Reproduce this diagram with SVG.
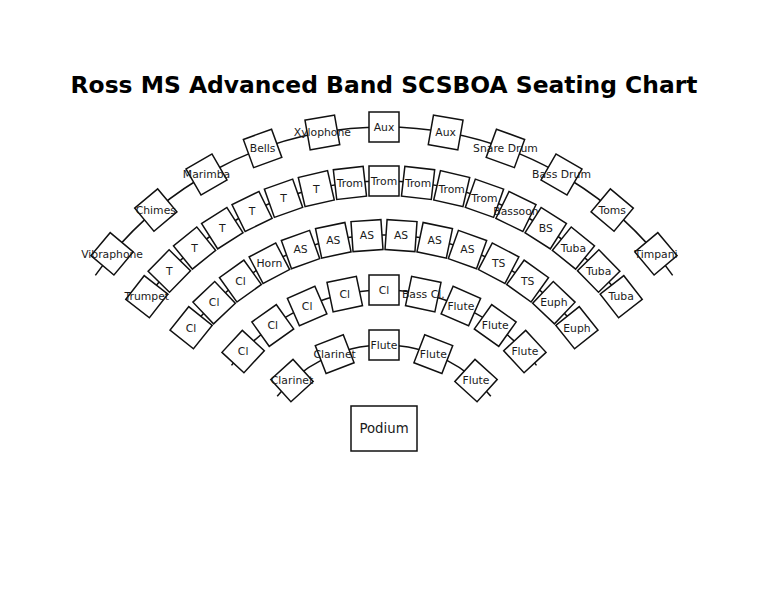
<svg xmlns="http://www.w3.org/2000/svg" width="768" height="593" viewBox="0 0 768 593">
<style>
.b{fill:#fff;stroke:#111;stroke-width:1.5}
.c{fill:none;stroke:#111;stroke-width:1.5}
.t{font-family:"DejaVu Sans",sans-serif;font-size:10.8px;fill:#1a1a1a;text-anchor:middle}
.title{font-family:"DejaVu Sans",sans-serif;font-size:23.4px;font-weight:bold;fill:#000;text-anchor:middle}
</style>
<rect width="768" height="593" fill="#fff"/>
<text class="title" x="384" y="93">Ross MS Advanced Band SCSBOA Seating Chart</text>
<g id="connectors">
<path class="c" d="M95.35,275.35 A355,355 0 0 1 672.65,275.35"/>
<path class="c" d="M140.5,305.1 A301,301 0 0 1 627.5,305.1"/>
<path class="c" d="M184.2,336.8 A247,247 0 0 1 583.8,336.8"/>
<path class="c" d="M231.5,365.4 A192,192 0 0 1 536.5,365.4"/>
<path class="c" d="M277.2,396.2 A137,137 0 0 1 490.8,396.2"/>
</g>
<!-- Row 1 -->
<g id="r1-vibraphone" transform="rotate(-50 384 482)"><rect class="b" x="369" y="112" width="30" height="30"/><text class="t" transform="translate(384 127) rotate(50)" y="3.8">Vibraphone</text></g>
<g id="r1-chimes" transform="rotate(-40 384 482)"><rect class="b" x="369" y="112" width="30" height="30"/><text class="t" transform="translate(384 127) rotate(40)" y="3.8">Chimes</text></g>
<g id="r1-marimba" transform="rotate(-30 384 482)"><rect class="b" x="369" y="112" width="30" height="30"/><text class="t" transform="translate(384 127) rotate(30)" y="3.8">Marimba</text></g>
<g id="r1-bells" transform="rotate(-20 384 482)"><rect class="b" x="369" y="112" width="30" height="30"/><text class="t" transform="translate(384 127) rotate(20)" y="3.8">Bells</text></g>
<g id="r1-xylophone" transform="rotate(-10 384 482)"><rect class="b" x="369" y="112" width="30" height="30"/><text class="t" transform="translate(384 127) rotate(10)" y="3.8">Xylophone</text></g>
<g id="r1-aux1"><rect class="b" x="369" y="112" width="30" height="30"/><text class="t" x="384" y="130.8">Aux</text></g>
<g id="r1-aux2" transform="rotate(10 384 482)"><rect class="b" x="369" y="112" width="30" height="30"/><text class="t" transform="translate(384 127) rotate(-10)" y="3.8">Aux</text></g>
<g id="r1-snare" transform="rotate(20 384 482)"><rect class="b" x="369" y="112" width="30" height="30"/><text class="t" transform="translate(384 127) rotate(-20)" y="3.8">Snare Drum</text></g>
<g id="r1-bass" transform="rotate(30 384 482)"><rect class="b" x="369" y="112" width="30" height="30"/><text class="t" transform="translate(384 127) rotate(-30)" y="3.8">Bass Drum</text></g>
<g id="r1-toms" transform="rotate(40 384 482)"><rect class="b" x="369" y="112" width="30" height="30"/><text class="t" transform="translate(384 127) rotate(-40)" y="3.8">Toms</text></g>
<g id="r1-timpani" transform="rotate(50 384 482)"><rect class="b" x="369" y="112" width="30" height="30"/><text class="t" transform="translate(384 127) rotate(-50)" y="3.8">Timpani</text></g>
<!-- Row 2 -->
<g id="r2-01" transform="rotate(-52 384 482)"><rect class="b" x="369" y="166" width="30" height="30"/><text class="t" transform="translate(384 181) rotate(52)" y="3.8">Trumpet</text></g>
<g id="r2-02" transform="rotate(-45.5 384 482)"><rect class="b" x="369" y="166" width="30" height="30"/><text class="t" transform="translate(384 181) rotate(45.5)" y="3.8">T</text></g>
<g id="r2-03" transform="rotate(-39 384 482)"><rect class="b" x="369" y="166" width="30" height="30"/><text class="t" transform="translate(384 181) rotate(39)" y="3.8">T</text></g>
<g id="r2-04" transform="rotate(-32.5 384 482)"><rect class="b" x="369" y="166" width="30" height="30"/><text class="t" transform="translate(384 181) rotate(32.5)" y="3.8">T</text></g>
<g id="r2-05" transform="rotate(-26 384 482)"><rect class="b" x="369" y="166" width="30" height="30"/><text class="t" transform="translate(384 181) rotate(26)" y="3.8">T</text></g>
<g id="r2-06" transform="rotate(-19.5 384 482)"><rect class="b" x="369" y="166" width="30" height="30"/><text class="t" transform="translate(384 181) rotate(19.5)" y="3.8">T</text></g>
<g id="r2-07" transform="rotate(-13 384 482)"><rect class="b" x="369" y="166" width="30" height="30"/><text class="t" transform="translate(384 181) rotate(13)" y="3.8">T</text></g>
<g id="r2-08" transform="rotate(-6.5 384 482)"><rect class="b" x="369" y="166" width="30" height="30"/><text class="t" transform="translate(384 181) rotate(6.5)" y="3.8">Trom</text></g>
<g id="r2-09"><rect class="b" x="369" y="166" width="30" height="30"/><text class="t" x="384" y="184.8">Trom</text></g>
<g id="r2-10" transform="rotate(6.5 384 482)"><rect class="b" x="369" y="166" width="30" height="30"/><text class="t" transform="translate(384 181) rotate(-6.5)" y="3.8">Trom</text></g>
<g id="r2-11" transform="rotate(13 384 482)"><rect class="b" x="369" y="166" width="30" height="30"/><text class="t" transform="translate(384 181) rotate(-13)" y="3.8">Trom</text></g>
<g id="r2-12" transform="rotate(19.5 384 482)"><rect class="b" x="369" y="166" width="30" height="30"/><text class="t" transform="translate(384 181) rotate(-19.5)" y="3.8">Trom</text></g>
<g id="r2-13" transform="rotate(26 384 482)"><rect class="b" x="369" y="166" width="30" height="30"/><text class="t" transform="translate(384 181) rotate(-26)" y="3.8">Bassoon</text></g>
<g id="r2-14" transform="rotate(32.5 384 482)"><rect class="b" x="369" y="166" width="30" height="30"/><text class="t" transform="translate(384 181) rotate(-32.5)" y="3.8">BS</text></g>
<g id="r2-15" transform="rotate(39 384 482)"><rect class="b" x="369" y="166" width="30" height="30"/><text class="t" transform="translate(384 181) rotate(-39)" y="3.8">Tuba</text></g>
<g id="r2-16" transform="rotate(45.5 384 482)"><rect class="b" x="369" y="166" width="30" height="30"/><text class="t" transform="translate(384 181) rotate(-45.5)" y="3.8">Tuba</text></g>
<g id="r2-17" transform="rotate(52 384 482)"><rect class="b" x="369" y="166" width="30" height="30"/><text class="t" transform="translate(384 181) rotate(-52)" y="3.8">Tuba</text></g>
<!-- Row 3 -->
<g id="r3-01" transform="rotate(-51.35 384 482)"><rect class="b" x="369" y="220" width="30" height="30"/><text class="t" transform="translate(384 235) rotate(51.35)" y="3.8">Cl</text></g>
<g id="r3-02" transform="rotate(-43.45 384 482)"><rect class="b" x="369" y="220" width="30" height="30"/><text class="t" transform="translate(384 235) rotate(43.45)" y="3.8">Cl</text></g>
<g id="r3-03" transform="rotate(-35.55 384 482)"><rect class="b" x="369" y="220" width="30" height="30"/><text class="t" transform="translate(384 235) rotate(35.55)" y="3.8">Cl</text></g>
<g id="r3-04" transform="rotate(-27.65 384 482)"><rect class="b" x="369" y="220" width="30" height="30"/><text class="t" transform="translate(384 235) rotate(27.65)" y="3.8">Horn</text></g>
<g id="r3-05" transform="rotate(-19.75 384 482)"><rect class="b" x="369" y="220" width="30" height="30"/><text class="t" transform="translate(384 235) rotate(19.75)" y="3.8">AS</text></g>
<g id="r3-06" transform="rotate(-11.85 384 482)"><rect class="b" x="369" y="220" width="30" height="30"/><text class="t" transform="translate(384 235) rotate(11.85)" y="3.8">AS</text></g>
<g id="r3-07" transform="rotate(-3.95 384 482)"><rect class="b" x="369" y="220" width="30" height="30"/><text class="t" transform="translate(384 235) rotate(3.95)" y="3.8">AS</text></g>
<g id="r3-08" transform="rotate(3.95 384 482)"><rect class="b" x="369" y="220" width="30" height="30"/><text class="t" transform="translate(384 235) rotate(-3.95)" y="3.8">AS</text></g>
<g id="r3-09" transform="rotate(11.85 384 482)"><rect class="b" x="369" y="220" width="30" height="30"/><text class="t" transform="translate(384 235) rotate(-11.85)" y="3.8">AS</text></g>
<g id="r3-10" transform="rotate(19.75 384 482)"><rect class="b" x="369" y="220" width="30" height="30"/><text class="t" transform="translate(384 235) rotate(-19.75)" y="3.8">AS</text></g>
<g id="r3-11" transform="rotate(27.65 384 482)"><rect class="b" x="369" y="220" width="30" height="30"/><text class="t" transform="translate(384 235) rotate(-27.65)" y="3.8">TS</text></g>
<g id="r3-12" transform="rotate(35.55 384 482)"><rect class="b" x="369" y="220" width="30" height="30"/><text class="t" transform="translate(384 235) rotate(-35.55)" y="3.8">TS</text></g>
<g id="r3-13" transform="rotate(43.45 384 482)"><rect class="b" x="369" y="220" width="30" height="30"/><text class="t" transform="translate(384 235) rotate(-43.45)" y="3.8">Euph</text></g>
<g id="r3-14" transform="rotate(51.35 384 482)"><rect class="b" x="369" y="220" width="30" height="30"/><text class="t" transform="translate(384 235) rotate(-51.35)" y="3.8">Euph</text></g>
<!-- Row 4 -->
<g id="r4-01" transform="rotate(-47.2 384 482)"><rect class="b" x="369" y="275" width="30" height="30"/><text class="t" transform="translate(384 290) rotate(47.2)" y="3.8">Cl</text></g>
<g id="r4-02" transform="rotate(-35.4 384 482)"><rect class="b" x="369" y="275" width="30" height="30"/><text class="t" transform="translate(384 290) rotate(35.4)" y="3.8">Cl</text></g>
<g id="r4-03" transform="rotate(-23.6 384 482)"><rect class="b" x="369" y="275" width="30" height="30"/><text class="t" transform="translate(384 290) rotate(23.6)" y="3.8">Cl</text></g>
<g id="r4-04" transform="rotate(-11.8 384 482)"><rect class="b" x="369" y="275" width="30" height="30"/><text class="t" transform="translate(384 290) rotate(11.8)" y="3.8">Cl</text></g>
<g id="r4-05"><rect class="b" x="369" y="275" width="30" height="30"/><text class="t" x="384" y="293.8">Cl</text></g>
<g id="r4-06" transform="rotate(11.8 384 482)"><rect class="b" x="369" y="275" width="30" height="30"/><text class="t" transform="translate(384 290) rotate(-11.8)" y="3.8">Bass Cl.</text></g>
<g id="r4-07" transform="rotate(23.6 384 482)"><rect class="b" x="369" y="275" width="30" height="30"/><text class="t" transform="translate(384 290) rotate(-23.6)" y="3.8">Flute</text></g>
<g id="r4-08" transform="rotate(35.4 384 482)"><rect class="b" x="369" y="275" width="30" height="30"/><text class="t" transform="translate(384 290) rotate(-35.4)" y="3.8">Flute</text></g>
<g id="r4-09" transform="rotate(47.2 384 482)"><rect class="b" x="369" y="275" width="30" height="30"/><text class="t" transform="translate(384 290) rotate(-47.2)" y="3.8">Flute</text></g>
<!-- Row 5 -->
<g id="r5-01" transform="rotate(-42.2 384 482)"><rect class="b" x="369" y="330" width="30" height="30"/><text class="t" transform="translate(384 345) rotate(42.2)" y="3.8">Clarinet</text></g>
<g id="r5-02" transform="rotate(-21.1 384 482)"><rect class="b" x="369" y="330" width="30" height="30"/><text class="t" transform="translate(384 345) rotate(21.1)" y="3.8">Clarinet</text></g>
<g id="r5-03"><rect class="b" x="369" y="330" width="30" height="30"/><text class="t" x="384" y="348.8">Flute</text></g>
<g id="r5-04" transform="rotate(21.1 384 482)"><rect class="b" x="369" y="330" width="30" height="30"/><text class="t" transform="translate(384 345) rotate(-21.1)" y="3.8">Flute</text></g>
<g id="r5-05" transform="rotate(42.2 384 482)"><rect class="b" x="369" y="330" width="30" height="30"/><text class="t" transform="translate(384 345) rotate(-42.2)" y="3.8">Flute</text></g>
<!-- Podium -->
<g id="podium"><rect class="b" x="351" y="406" width="66" height="45"/><text class="t" style="font-size:13.3px" x="384" y="433">Podium</text></g>
</svg>
